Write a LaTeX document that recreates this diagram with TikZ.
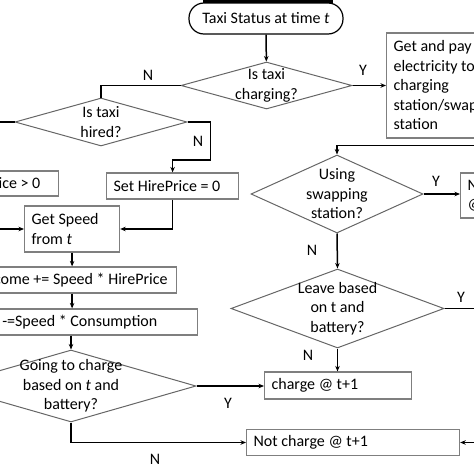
\documentclass[tikz,border=0pt]{standalone}
\usepackage{fontspec}
\setmainfont{Carlito}
\usetikzlibrary{shapes.geometric,arrows.meta}
\definecolor{boxgray}{HTML}{7F7F7F}
\begin{document}
\begin{tikzpicture}[x=1pt,y=-1pt,
  every node/.style={font=\fontsize{16}{19.5}\selectfont},
  flow/.style={line width=1.5pt,-{Stealth[length=5.5pt,width=4.5pt]}},
  link/.style={line width=1.5pt},
  stepbox/.style 2 args={draw=boxgray,line width=1.2pt,inner xsep=7pt,inner ysep=0pt,text width=#1,minimum height=#2,align=flush left},
  decision/.style 2 args={diamond,draw=boxgray!80!black,line width=1pt,inner sep=0pt,minimum width=#1,minimum height=#2},
  dtext/.style={align=center,inner sep=0pt},
  yn/.style={inner sep=0pt}]
  \useasboundingbox (0,0) rectangle (474,474);
  \clip (0,0) rectangle (474,474);
  \fill (203,0) rectangle (333,2.5);
  \node[draw,line width=1.2pt,rounded corners=15pt,minimum width=154pt,minimum height=31pt] (term) at (266,18.5) {Taxi Status at time \textit{t}};
  \node[decision={171}{47},label={[dtext]center:{Is taxi\\charging?}}] (dcharge) at (266.5,85.5) {};
  \node[stepbox={125pt}{105pt},anchor=west] (getpay) at (386,85.5) {Get and pay\\electricity to\\charging\\station/swapping\\station};
  \node[decision={172}{48},label={[dtext]center:{Is taxi\\hired?}}] (dhired) at (101,122) {};
  \node[stepbox={118pt}{25pt},anchor=west] (hpos) at (-74,183.5) {Set HirePrice > 0};
  \node[stepbox={118pt}{26pt},anchor=west] (sset) at (106,186) {Set HirePrice = 0};
  \node[stepbox={81pt}{46pt},anchor=west] (gspeed) at (24,229) {Get Speed\\from \textit{t}};
  \node[stepbox={188pt}{26pt},anchor=west] (income) at (-26,280) {Income += Speed * HirePrice};
  \node[stepbox={239pt}{26pt},anchor=west] (consume) at (-56,322) {Battery -=Speed * Consumption};
  \node[decision={250}{72},label={[dtext]center:{Going to charge\\based on \textit{t} and\\battery?}}] (dgo) at (71,386) {};
  \node[decision={172}{78},label={[dtext]center:{Using\\swapping\\station?}}] (dswap) at (337,194) {};
  \node[stepbox={110pt}{45pt},anchor=west] (swapout) at (460,195.5) {Not charge\\@ t+1};
  \node[decision={213}{79},label={[dtext]center:{Leave based\\on t and\\battery?}}] (dleave) at (337.5,308.5) {};
  \node[stepbox={133pt}{27pt},anchor=west] (charge) at (264,385.5) {charge @ t+1};
  \node[stepbox={199pt}{26pt},anchor=west] (notcharge) at (246,442.5) {Not charge @ t+1};
  \coordinate (swin) at (490,145.5);
  \coordinate (leaveout) at (490,308.5);
  \coordinate (ncin) at (490,442.5);
  \draw[flow] (term) -- (dcharge);
  \draw[link] (dcharge.west) -| (dhired.north);
  \draw[flow] (dcharge.east) -- (getpay.west);
  \draw[flow] (dhired.east) -| ++(23,38) -| (sset.north);
  \draw[flow] (dhired.west) -| (hpos.north);
  \draw[flow] (sset.south) |- (gspeed.east);
  \draw[flow] (hpos.south) |- (gspeed.west);
  \draw[flow] (gspeed.south) -- (gspeed.south |- income.north);
  \draw[flow] (gspeed.south |- income.south) -- (gspeed.south |- consume.north);
  \draw[flow] (dgo.north |- consume.south) -- (dgo.north);
  \draw[flow] (dgo.east) -- (dgo.east -| charge.west);
  \draw[flow] (dgo.south) |- (notcharge.west);
  \draw[flow] (swin) -| (dswap.north);
  \draw[flow] (dswap.east) -- (dswap.east -| swapout.west);
  \draw[flow] (dswap.south) -- (dleave.north);
  \draw[link] (dleave.east) -- (leaveout);
  \draw[flow] (dleave.south) -- (dleave.south |- charge.north);
  \draw[flow] (ncin) -- (notcharge.east);
  \node[yn] (ncharge) at (148,75) {N};
  \node[yn] (ycharge) at (363,70) {Y};
  \node[yn] (nhired) at (198,141) {N};
  \node[yn] (yswap) at (436,181) {Y};
  \node[yn] (nswap) at (312,250) {N};
  \node[yn] (yleave) at (461,297) {Y};
  \node[yn] (nleave) at (308,355) {N};
  \node[yn] (ygo) at (228,403) {Y};
  \node[yn] (ngo) at (155,459) {N};
\end{tikzpicture}
\end{document}
